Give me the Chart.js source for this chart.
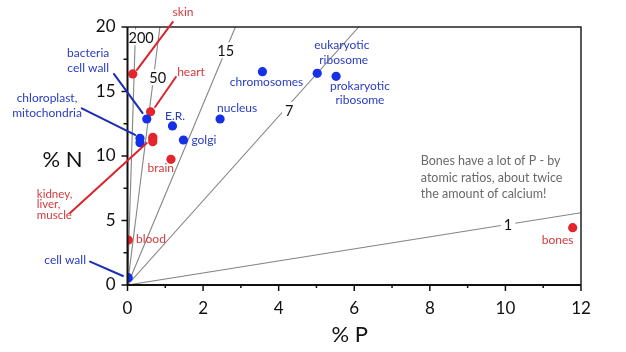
<!DOCTYPE html>
<html><head><meta charset="utf-8">
<script src="https://cdn.jsdelivr.net/npm/chart.js@4/dist/chart.umd.min.js"></script>
<style>html,body{margin:0;padding:0;background:#fff}#wrap{width:626px;height:352px;position:relative}</style>
</head><body><div id="wrap"><canvas id="c"></canvas></div>
<script>
// ---------- data ----------
const blueNames = ['cell wall', 'chloroplast', 'mitochondria', 'bacteria cell wall', 'E.R.', 'golgi', 'nucleus', 'chromosomes', 'eukaryotic ribosome', 'prokaryotic ribosome'];
const blueP = [0.02, 0.33, 0.33, 0.51, 1.19, 1.48, 2.45, 3.57, 5.02, 5.52];
const blueN = [0.57, 11.37, 11.03, 12.87, 12.33, 11.24, 12.87, 16.54, 16.41, 16.18];

const redNames = ['skin', 'heart', 'kidney', 'liver', 'muscle', 'brain', 'blood', 'bones'];
const redP = [0.14, 0.61, 0.67, 0.67, 0.67, 1.15, 0.02, 11.78];
const redN = [16.36, 13.43, 11.45, 11.28, 11.11, 9.74, 3.49, 4.44];

// N:P atomic ratio reference lines
const ratios = [200, 50, 15, 7, 1];
const ratioText = ['200', '50', '15', '7', '1'];
const N_PER_P_MASS = 0.467;

const xTicks = [0, 2, 4, 6, 8, 10, 12];
const yTicks = [0, 5, 10, 15, 20];
const X_MAX = 12, Y_MAX = 20;

const noteLines = ['Bones have a lot of P - by', 'atomic ratios, about twice', 'the amount of calcium!'];

// ---------- styles ----------
const FONT = 'Lato, "Open Sans", sans-serif';
const BLUE = '#1530e6', BLUE_TXT = '#2a3cc0', BLUE_LINE = '#1a2db5';
const RED = '#e3262c', RED_TXT = '#d33a3c', RED_LINE = '#d8262c';
const GRAY = '#858585';

// annotation placement (data coordinates)
const textLabels = [
  {t: 'skin', x: 1.47, y: 21.16, c: RED_TXT},
  {t: 'heart', x: 1.68, y: 16.51, c: RED_TXT},
  {t: 'bacteria', x: -1.04, y: 17.98, c: BLUE_TXT},
  {t: 'cell wall', x: -1.04, y: 16.82, c: BLUE_TXT},
  {t: 'chloroplast,', x: -2.13, y: 14.50, c: BLUE_TXT},
  {t: 'mitochondria', x: -2.13, y: 13.33, c: BLUE_TXT},
  {t: 'E.R.', x: 1.26, y: 13.1, c: BLUE_TXT},
  {t: 'golgi', x: 2.02, y: 11.24, c: BLUE_TXT},
  {t: 'nucleus', x: 2.90, y: 13.7, c: BLUE_TXT},
  {t: 'chromosomes', x: 3.68, y: 15.76, c: BLUE_TXT},
  {t: 'eukaryotic', x: 5.67, y: 18.6, c: BLUE_TXT},
  {t: 'ribosome', x: 5.72, y: 17.44, c: BLUE_TXT},
  {t: 'prokaryotic', x: 6.15, y: 15.45, c: BLUE_TXT},
  {t: 'ribosome', x: 6.15, y: 14.34, c: BLUE_TXT},
  {t: 'brain', x: 0.88, y: 9.09, c: RED_TXT},
  {t: 'blood', x: 0.62, y: 3.54, c: RED_TXT},
  {t: 'cell wall', x: -1.65, y: 1.94, c: BLUE_TXT},
  {t: 'bones', x: 11.38, y: 3.49, c: RED_TXT}
];
const kidneyLines = ['kidney,', 'liver,', 'muscle'];
const kidneyPos = {x: -2.4, y: 7.05};
const callouts = [
  {x1: 0.25, y1: 16.67, x2: 1.20, y2: 20.39, c: RED_LINE},
  {x1: 0.73, y1: 13.80, x2: 1.28, y2: 16.12, c: RED_LINE},
  {x1: -0.36, y1: 16.36, x2: 0.40, y2: 13.33, c: BLUE_LINE},
  {x1: -1.21, y1: 13.70, x2: 0.20, y2: 11.63, c: BLUE_LINE},
  {x1: -1.52, y1: 5.58, x2: 0.51, y2: 11.00, c: RED_LINE},
  {x1: -0.99, y1: 1.81, x2: -0.12, y2: 0.70, c: BLUE_LINE}
];
const ratioLabelPos = [
  {x: 0.36, y: 19.2}, {x: 0.80, y: 16.1}, {x: 2.60, y: 18.2}, {x: 4.28, y: 13.57}, {x: 10.07, y: 4.7}
];

// ---------- build datasets ----------
function ratioLine(r) {
  const s = r * N_PER_P_MASS;
  const end = s * X_MAX > Y_MAX ? {x: Y_MAX / s, y: Y_MAX} : {x: X_MAX, y: s * X_MAX};
  return [{x: 0, y: 0}, end];
}
const datasets = [
  {label: 'organelles', data: blueP.map((p, i) => ({x: p, y: blueN[i]})), backgroundColor: BLUE, borderColor: BLUE, pointRadius: 4.6, pointBorderWidth: 0},
  {label: 'tissues', data: redP.map((p, i) => ({x: p, y: redN[i]})), backgroundColor: RED, borderColor: RED, pointRadius: 4.6, pointBorderWidth: 0}
];
ratios.forEach(r => datasets.push({label: 'N:P ' + r, data: ratioLine(r), showLine: true, borderColor: GRAY, borderWidth: 1.1, pointRadius: 0, fill: false}));

const overlay = {
  id: 'overlay',
  afterDatasetDraw(chart, args) {
    if (args.index !== 2) return; // after the last ratio line is drawn
    const ctx = chart.ctx, xs = chart.scales.x, ys = chart.scales.y;
    ctx.save();
    ctx.font = `14.5px ${FONT}`; ctx.textAlign = 'center'; ctx.textBaseline = 'middle';
    ratioLabelPos.forEach((p, i) => {
      const px = xs.getPixelForValue(p.x), py = ys.getPixelForValue(p.y);
      const w = ctx.measureText(ratioText[i]).width + 6;
      ctx.fillStyle = '#fff'; ctx.fillRect(px - w / 2, py - 8, w, 16);
      ctx.fillStyle = '#111'; ctx.fillText(ratioText[i], px, py + 1);
    });
    ctx.restore();
  },
  afterDraw(chart) {
    const ctx = chart.ctx, xs = chart.scales.x, ys = chart.scales.y, a = chart.chartArea;
    ctx.save();
    // frame
    ctx.strokeStyle = '#222'; ctx.lineWidth = 1.5;
    ctx.beginPath(); ctx.moveTo(a.left, a.top); ctx.lineTo(a.right, a.top); ctx.lineTo(a.right, a.bottom); ctx.stroke();
    ctx.strokeStyle = '#111'; ctx.lineWidth = 2;
    ctx.beginPath(); ctx.moveTo(a.left, a.top); ctx.lineTo(a.left, a.bottom); ctx.lineTo(a.right, a.bottom); ctx.stroke();
    // tick marks
    ctx.lineWidth = 1.5;
    for (let v = 0; v <= X_MAX; v += 1) {
      const px = xs.getPixelForValue(v), len = v % 2 === 0 ? 6 : 3;
      ctx.beginPath(); ctx.moveTo(px, a.bottom); ctx.lineTo(px, a.bottom + len); ctx.stroke();
    }
    for (let v = 0; v <= Y_MAX; v += 2.5) {
      const py = ys.getPixelForValue(v), len = v % 5 === 0 ? 6 : 4;
      ctx.beginPath(); ctx.moveTo(a.left, py); ctx.lineTo(a.left - len, py); ctx.stroke();
    }
    // callout lines
    ctx.lineWidth = 2; ctx.lineCap = 'round';
    callouts.forEach(l => {
      ctx.strokeStyle = l.c;
      ctx.beginPath(); ctx.moveTo(xs.getPixelForValue(l.x1), ys.getPixelForValue(l.y1));
      ctx.lineTo(xs.getPixelForValue(l.x2), ys.getPixelForValue(l.y2)); ctx.stroke();
    });
    // text labels
    ctx.font = `12px ${FONT}`; ctx.textAlign = 'center'; ctx.textBaseline = 'middle';
    textLabels.forEach(l => {
      ctx.fillStyle = l.c;
      ctx.fillText(l.t, xs.getPixelForValue(l.x), ys.getPixelForValue(l.y));
    });
    ctx.textAlign = 'left'; ctx.fillStyle = RED_TXT; ctx.font = `11.5px ${FONT}`;
    kidneyLines.forEach((t, i) => {
      ctx.fillText(t, xs.getPixelForValue(kidneyPos.x), ys.getPixelForValue(kidneyPos.y) + i * 10.5);
    });
    // note
    ctx.fillStyle = '#6a6a6a'; ctx.font = `12.5px ${FONT}`;
    noteLines.forEach((t, i) => {
      ctx.fillText(t, xs.getPixelForValue(7.76), ys.getPixelForValue(9.6) + i * 16.5);
    });
    // axis titles
    ctx.fillStyle = '#111'; ctx.font = `22px ${FONT}`; ctx.textAlign = 'center';
    ctx.fillText('% N', xs.getPixelForValue(-1.72), ys.getPixelForValue(9.7));
    ctx.fillText('% P', xs.getPixelForValue(5.88), ys.getPixelForValue(-3.85));
    ctx.restore();
  }
};

new Chart(document.getElementById('c'), {
  type: 'scatter',
  data: {datasets},
  options: {
    responsive: true, maintainAspectRatio: false, animation: false,
    layout: {padding: {top: 27, right: 45, left: 0, bottom: 0}},
    plugins: {legend: {display: false}, tooltip: {enabled: false}},
    scales: {
      x: {
        type: 'linear', min: 0, max: X_MAX,
        afterFit: s => { s.height = 67; },
        afterBuildTicks: s => { s.ticks = xTicks.map(v => ({value: v})); },
        grid: {display: false, drawTicks: false}, border: {display: false},
        ticks: {font: {family: FONT, size: 17}, color: '#111', padding: 13, maxRotation: 0}
      },
      y: {
        type: 'linear', min: 0, max: Y_MAX,
        afterFit: s => { s.width = 127.5; },
        afterBuildTicks: s => { s.ticks = yTicks.map(v => ({value: v})); },
        grid: {display: false, drawTicks: false}, border: {display: false},
        ticks: {font: {family: FONT, size: 17}, color: '#111', padding: 12}
      }
    }
  },
  plugins: [overlay]
});
</script>
</body></html>
